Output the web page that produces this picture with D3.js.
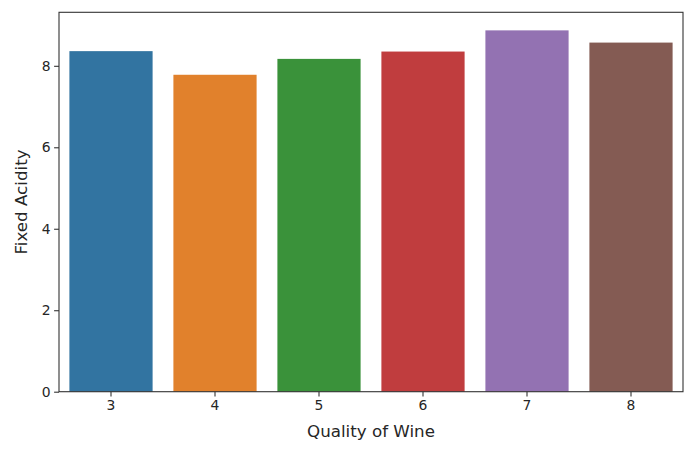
<!DOCTYPE html>
<html>
<head>
<meta charset="utf-8">
<script src="https://cdn.jsdelivr.net/npm/d3@7"></script>
<style>
  body { margin: 0; background: #fff; }
  svg text { font-family: "DejaVu Sans", sans-serif; fill: #262626; }
  .axis path.domain { display: none; }
  .axis line { stroke: #333; stroke-width: 1.1; }
</style>
</head>
<body>
<div id="chart"></div>
<script>
const qualities = ['3', '4', '5', '6', '7', '8'];
const fixedAcidity = [8.36, 7.78, 8.17, 8.35, 8.87, 8.57];
const yTicks = [0, 2, 4, 6, 8];
const barColors = ['#3274a1', '#e1812c', '#3a923a', '#c03d3e', '#9372b2', '#845b53'];

const width = 699;
const height = 449;
const margin = { top: 12.3, right: 16, bottom: 57.3, left: 59 };
const chartWidth = width - margin.left - margin.right;
const chartHeight = height - margin.top - margin.bottom;

const svg = d3.select('#chart')
    .append('svg')
    .attr('width', width)
    .attr('height', height);

const chart = svg.append('g')
    .attr('transform', `translate(${margin.left},${margin.top})`);

// scales
const xScale = d3.scaleBand()
    .domain(qualities)
    .range([0, chartWidth])
    .paddingInner(0.2)
    .paddingOuter(0.1);
const yScale = d3.scaleLinear()
    .domain([0, d3.max(fixedAcidity) * 1.05])
    .range([chartHeight, 0]);

const data = qualities.map((q, i) => ({ q, v: fixedAcidity[i], c: barColors[i] }));

chart.selectAll('.bar')
    .data(data)
    .enter()
    .append('rect')
    .classed('bar', true)
    .attr('x', d => xScale(d.q))
    .attr('y', d => yScale(d.v))
    .attr('width', xScale.bandwidth())
    .attr('height', d => chartHeight - yScale(d.v))
    .style('fill', d => d.c);

const xAxis = d3.axisBottom(xScale)
    .tickSize(4.9)
    .tickSizeOuter(0)
    .tickPadding(3.5);
chart.append('g')
    .classed('x axis', true)
    .attr('transform', `translate(0,${chartHeight})`)
    .call(xAxis)
    .selectAll('text')
    .style('font-size', '13.9px');

const yAxis = d3.axisLeft(yScale)
    .tickValues(yTicks)
    .tickSize(4.9)
    .tickSizeOuter(0)
    .tickPadding(3.5);
chart.append('g')
    .classed('y axis', true)
    .call(yAxis)
    .selectAll('text')
    .style('font-size', '13.9px');

// frame
chart.append('rect')
    .attr('width', chartWidth)
    .attr('height', chartHeight)
    .attr('fill', 'none')
    .attr('stroke', '#333')
    .attr('stroke-width', 1.1);

chart.append('text')
    .attr('x', chartWidth / 2)
    .attr('y', chartHeight + 45)
    .style('font-size', '16.7px')
    .style('text-anchor', 'middle')
    .text('Quality of Wine');

chart.append('text')
    .attr('transform', `translate(${27 - margin.left}, ${chartHeight / 2}) rotate(-90)`)
    .style('font-size', '16.7px')
    .style('text-anchor', 'middle')
    .text('Fixed Acidity');
</script>
</body>
</html>
